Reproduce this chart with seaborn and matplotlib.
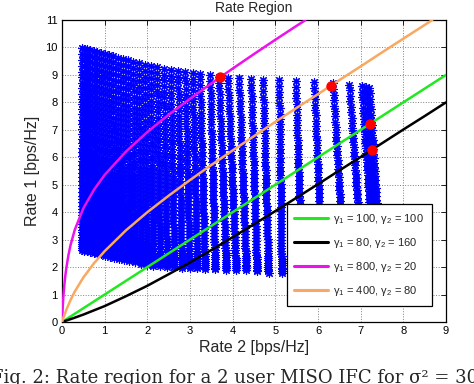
import numpy as np
import matplotlib
matplotlib.use("Agg")
import matplotlib.pyplot as plt
import seaborn as sns

# strips of the achievable rate region: top and bottom end of every strip
col_x_top = [0.46, 0.52, 0.59, 0.66, 0.74, 0.82, 0.91, 1.00, 1.10, 1.20, 1.31, 1.42, 1.54,
             1.67, 1.80, 1.94, 2.08, 2.23, 2.39, 2.55, 2.72, 2.89, 3.06, 3.23, 3.47, 3.68,
             3.89, 4.15, 4.43, 4.71, 5.09, 5.48, 5.91, 6.35, 6.73, 7.02, 7.12, 7.20]
col_x_bot = [0.46, 0.52, 0.59, 0.66, 0.74, 0.83, 0.92, 1.01, 1.12, 1.22, 1.34, 1.45, 1.58,
             1.71, 1.85, 1.99, 2.14, 2.30, 2.46, 2.63, 2.81, 2.99, 3.17, 3.35, 3.59, 3.85,
             4.08, 4.32, 4.57, 4.84, 5.15, 5.62, 6.10, 6.62, 7.05, 7.32, 7.42, 7.48]
col_y_top = [9.98, 9.96, 9.93, 9.90, 9.87, 9.84, 9.80, 9.77, 9.73, 9.68, 9.63, 9.58, 9.53,
             9.47, 9.42, 9.37, 9.32, 9.28, 9.23, 9.19, 9.15, 9.12, 9.08, 9.05, 8.98, 8.92,
             8.90, 8.88, 8.86, 8.83, 8.80, 8.76, 8.73, 8.69, 8.64, 8.60, 8.57, 8.54]
col_y_bot = [2.62, 2.60, 2.58, 2.55, 2.52, 2.49, 2.46, 2.42, 2.38, 2.34, 2.30, 2.26, 2.22,
             2.17, 2.12, 2.08, 2.05, 2.03, 2.01, 1.99, 1.97, 1.96, 1.95, 1.94, 1.92, 1.91,
             1.90, 1.89, 1.84, 1.80, 1.78, 1.77, 1.76, 1.75, 1.74, 1.73, 1.72, 1.72]
# where the points sit along a strip (0 = top end, 1 = bottom end)
row_frac = [0, .030, .059, .088, .117, .145, .173, .200, .227, .253, .279, .304, .329,
            .354, .378, .402, .425, .448, .471, .493, .515, .536, .557, .578, .598, .618,
            .638, .657, .676, .694, .712, .730, .747, .764, .781, .797, .813, .828, .843,
            .858, .872, .886, .899, .912, .925, .937, .949, .960, .971, .981, .991, 1.0]

# SNR-ratio curves, Rate 2 -> Rate 1
green_r2 = [0, 9]
green_r1 = [0, 9]
black_r2 = [0, 0.25, 0.5, 1, 1.5, 2, 2.5, 3, 3.5, 4, 4.5, 5, 5.5, 6, 6.5, 7, 7.5, 8, 8.5, 9]
black_r1 = [0, 0.13, 0.27, 0.58, 0.94, 1.32, 1.74, 2.17, 2.62, 3.09, 3.56, 4.04, 4.53,
            5.02, 5.52, 6.01, 6.51, 7.01, 7.50, 8.00]
magenta_r2 = [0, 0.002, 0.005, 0.01, 0.02, 0.035, 0.05, 0.075, 0.1, 0.15, 0.2, 0.3, 0.5,
              0.75, 1, 1.5, 2, 2.5, 3, 3.5, 4, 4.5, 5, 5.5, 5.7]
magenta_r1 = [0, 0.08, 0.19, 0.35, 0.64, 0.99, 1.27, 1.65, 1.95, 2.43, 2.80, 3.36, 4.14,
              4.82, 5.36, 6.21, 6.92, 7.55, 8.13, 8.69, 9.23, 9.76, 10.28, 10.79, 10.99]
orange_r2 = [0, 0.005, 0.01, 0.02, 0.05, 0.1, 0.2, 0.3, 0.5, 0.75, 1, 1.5, 2, 2.5, 3, 3.5,
             4, 4.5, 5, 5.5, 6, 6.5, 7, 7.5, 8, 8.5, 8.68]
orange_r1 = [0, 0.02, 0.05, 0.10, 0.23, 0.44, 0.80, 1.11, 1.62, 2.14, 2.58, 3.34, 4.00,
             4.60, 5.17, 5.72, 6.25, 6.77, 7.29, 7.80, 8.30, 8.81, 9.31, 9.82, 10.32,
             10.82, 11.0]

# operating points
dot_r2 = [3.70, 6.30, 7.22, 7.27]
dot_r1 = [8.91, 8.60, 7.22, 6.28]

sns.set_theme(style="white")
plt.rcParams['font.family'] = ['Liberation Sans', 'DejaVu Sans']
plt.rcParams['mathtext.fontset'] = 'custom'
plt.rcParams['mathtext.rm'] = 'Liberation Sans'
plt.rcParams['mathtext.it'] = 'Liberation Sans:italic'

fig = plt.figure(figsize=(4.74, 3.84), dpi=100)
ax = fig.add_axes([62 / 474, 1 - 322 / 384, 384 / 474, 302 / 384])

f = np.array(row_frac)[None, :]
xt, xb = np.array(col_x_top)[:, None], np.array(col_x_bot)[:, None]
yt, yb = np.array(col_y_top)[:, None], np.array(col_y_bot)[:, None]
pts_x = (xt + f * (xb - xt)).ravel()
pts_y = (yt - f * (yt - yb)).ravel()
sns.scatterplot(x=pts_x, y=pts_y, marker=(8, 2, 0), s=30, color='blue',
                edgecolor='blue', linewidth=0.85, ax=ax, zorder=2)

curves = [(green_r2, green_r1, '#22e822', r'γ$_1$ = 100, γ$_2$ = 100'),
          (black_r2, black_r1, 'black', r'γ$_1$ = 80, γ$_2$ = 160'),
          (magenta_r2, magenta_r1, '#ec12ec', r'γ$_1$ = 800, γ$_2$ = 20'),
          (orange_r2, orange_r1, '#f8a860', r'γ$_1$ = 400, γ$_2$ = 80')]
for r2, r1, c, lab in curves:
    sns.lineplot(x=r2, y=r1, color=c, lw=1.8, sort=False, estimator=None,
                 label=lab, ax=ax, zorder=3)

ax.plot(dot_r2, dot_r1, 'o', color='red', ms=6.5, zorder=4)

ax.set_xlim(0, 9)
ax.set_ylim(0, 11)
ax.set_xticks(range(0, 10))
ax.set_yticks(range(0, 12))
ax.grid(True, ls=':', color='#808080', lw=0.7)
ax.tick_params(direction='in', top=True, right=True, length=3.5, width=0.6,
               labelsize=8, pad=3, colors='black')
for s in ax.spines.values():
    s.set_color('black')
    s.set_linewidth(0.9)

ax.set_title('Rate Region', fontsize=10, pad=6)
ax.set_xlabel('Rate 2 [bps/Hz]', fontsize=11.5)
ax.set_ylabel('Rate 1 [bps/Hz]', fontsize=11.5)
ax.xaxis.set_label_coords(0.5, -0.06)
ax.yaxis.set_label_coords(-0.058, 0.5)

leg = ax.legend(loc='lower right', bbox_to_anchor=(0.9635, 0.053), borderaxespad=0,
                fontsize=8, handlelength=3.0, labelspacing=0.9, fancybox=False,
                framealpha=1, edgecolor='black', borderpad=0.7, handletextpad=0.5)
leg.get_frame().set_linewidth(0.9)
for h in leg.get_lines():
    h.set_linewidth(2.2)

fig.text(-9 / 474, 1 - 383 / 384, 'Fig. 2: Rate region for a 2 user MISO IFC for σ² = 30 dB',
         fontsize=13, family='DejaVu Serif', va='baseline', ha='left')

fig.savefig('out.png', dpi=100)
